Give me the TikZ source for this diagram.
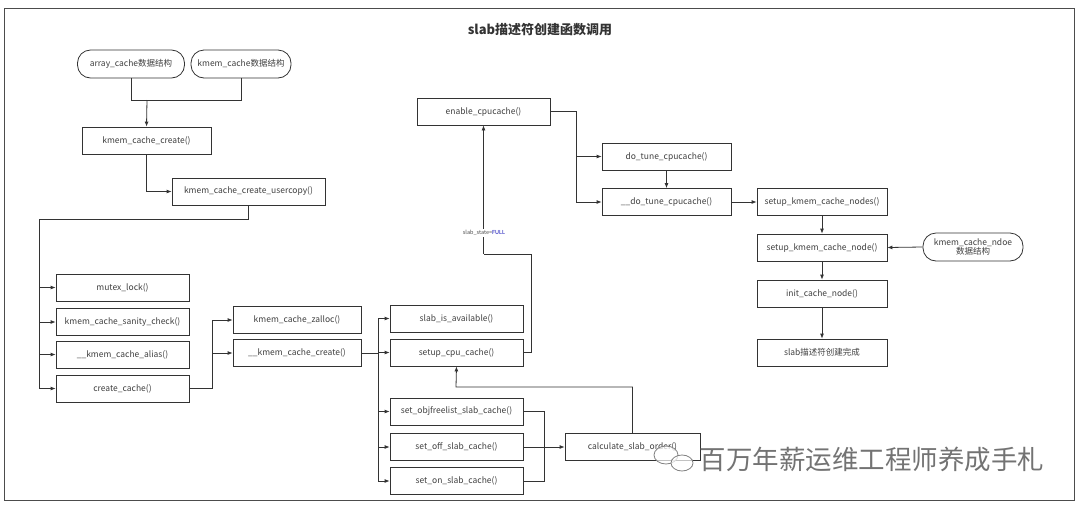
\documentclass[tikz,border=0pt]{standalone}
\usepackage{fontspec}
\setmainfont{Noto Sans CJK SC}
\usetikzlibrary{arrows.meta}
\begin{document}
\begin{tikzpicture}[x=1pt,y=-1pt,
  box/.style={draw=black!80,line width=0.8pt,fill=white,minimum height=27pt,inner sep=1pt,font=\fontsize{8.5}{10}\selectfont,text=black!75},
  pill/.style={box,rounded corners=13pt,minimum height=28pt},
  ar/.style={draw=black!80,line width=0.8pt,-{Latex[length=5pt,width=4pt]}},
  ln/.style={draw=black!80,line width=0.8pt}]
\useasboundingbox (0,0) rectangle (1080,507);
\draw[black!70,line width=0.8pt] (4,8) rectangle (1074,500);
\node[font=\bfseries\fontsize{13}{15}\selectfont,text=black!80] (title) at (540,30) {slab描述符创建函数调用};
% left
\node[pill,minimum width=107pt] (ac) at (131,64) {array\_cache数据结构};
\node[pill,minimum width=100pt] (kc) at (241,64) {kmem\_cache数据结构};
\node[box,minimum width=129pt] (kcc) at (146.5,140.5) {kmem\_cache\_create()};
\node[box,minimum width=153pt] (uc) at (248.5,191.5) {kmem\_cache\_create\_usercopy()};
\node[box,minimum width=133pt] (ml) at (122.5,287.5) {mutex\_lock()};
\node[box,minimum width=133pt] (sc) at (122.5,322) {kmem\_cache\_sanity\_check()};
\node[box,minimum width=133pt] (al) at (122.5,354.5) {\_\_kmem\_cache\_alias()};
\node[box,minimum width=133pt] (cc) at (122.5,388.5) {create\_cache()};
\node[box,minimum width=128pt] (za) at (297,320) {kmem\_cache\_zalloc()};
\node[box,minimum width=128pt] (kk) at (297,353) {\_\_kmem\_cache\_create()};
\node[box,minimum width=133pt] (sa) at (456.5,318.5) {slab\_is\_available()};
\node[box,minimum width=133pt] (scc) at (456.5,352.5) {setup\_cpu\_cache()};
\node[box,minimum width=133pt] (sof) at (456.5,411.5) {set\_objfreelist\_slab\_cache()};
\node[box,minimum width=133pt] (soff) at (456.5,447) {set\_off\_slab\_cache()};
\node[box,minimum width=133pt] (son) at (456.5,481) {set\_on\_slab\_cache()};
\node[box,minimum width=135pt] (cso) at (632.5,447) {calculate\_slab\_order()};
\node[box,minimum width=133pt] (ec) at (483.5,111.5) {enable\_cpucache()};
\node[box,minimum width=129pt] (dt) at (666.5,156.5) {do\_tune\_cpucache()};
\node[box,minimum width=129pt] (ddt) at (666.5,202) {\_\_do\_tune\_cpucache()};
\node[box,minimum width=130pt] (skn) at (822,202) {setup\_kmem\_cache\_nodes()};
\node[box,minimum width=130pt] (sk1) at (822,247.5) {setup\_kmem\_cache\_node()};
\node[box,minimum width=130pt] (icn) at (822,293.5) {init\_cache\_node()};
\node[box,minimum width=130pt] (done) at (822,352.5) {slab描述符创建完成};
\node[pill,minimum width=100pt,align=center,font=\fontsize{8.5}{9}\selectfont] (kn) at (973,247) {kmem\_cache\_ndoe\\数据结构};
% connectors
\draw[ln] (ac.south) |- (147,100);
\draw[ln] (kc.south) |- (147,100);
\draw[ar] (147,100) -- (kcc.north);
\draw[ar] (kcc.south) |- (uc.west);
\coordinate (j1) at (39,219);
\draw[ln] (uc.south) |- (j1) -- (39,388.5);
\foreach \n in {ml,sc,al,cc} \draw[ar] (39,0 |- \n.west) -- (\n.west);
\coordinate (j2) at (212,388.5);
\draw[ln] (cc.east) -- (j2) -- (212,320);
\foreach \n in {za,kk} \draw[ar] (212,0 |- \n.west) -- (\n.west);
\draw[ln] (kk.east) -- (378,353);
\draw[ln] (378,318.5) -- (378,481);
\foreach \n in {sa,scc,sof,soff,son} \draw[ar] (378,0 |- \n.west) -- (\n.west);
\coordinate (j3) at (531,254);
\draw[ln] (scc.east) -| (j3) -- (483.5,254);
\draw[ar] (483.5,254) -- (ec.south);
\node[fill=white,inner sep=1pt,font=\fontsize{5.5}{6}\selectfont] (lab) at (484,233) {\textcolor{black!70}{slab\_state=}\textcolor{blue!70!black}{FULL}};
\draw[ln] (ec.east) -- (576,111.5) -- (576,202);
\foreach \n in {dt,ddt} \draw[ar] (576,0 |- \n.west) -- (\n.west);
\draw[ar] (dt.south) -- (ddt.north);
\draw[ar] (ddt.east) -- (skn.west);
\draw[ar] (skn.south) -- (sk1.north);
\draw[ar] (sk1.south) -- (icn.north);
\draw[ar] (icn.south) -- (done.north);
\draw[ar] (kn.west) -- (sk1.east);
\draw[ln] (sof.east) -| (544,481) -- (son.east);
\draw[ar] (soff.east) -- (cso.west);
\draw[ar] (cso.north) |- (456,387) -- (scc.south);
% watermark
\node[font=\fontsize{26.5}{28}\selectfont,text=black!55,inner sep=1pt] (wm) at (872,459) {百万年薪运维工程师养成手札};
\draw[black!50,line width=0.8pt,fill=white,fill opacity=0.7] (666,455) ellipse (12pt and 9pt);
\draw[black!50,line width=0.8pt,fill=white,fill opacity=0.7] (682,463) ellipse (11pt and 8pt);
\end{tikzpicture}
\end{document}
